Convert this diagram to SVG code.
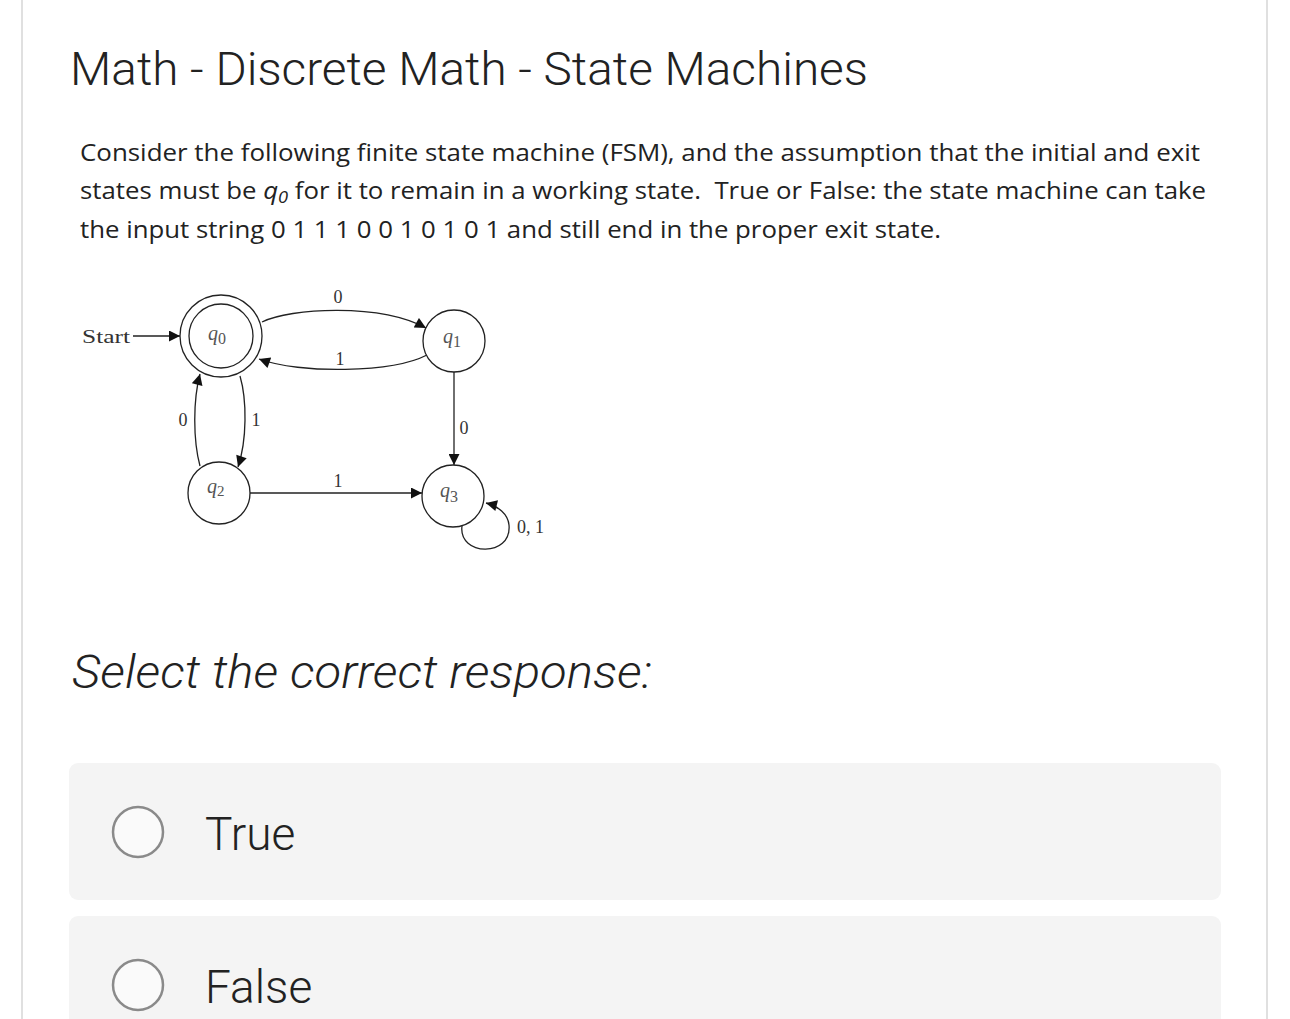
<svg xmlns="http://www.w3.org/2000/svg" width="1290" height="1019" viewBox="0 0 1290 1019">
<style>
.title{font-family:Roboto,"Liberation Sans",sans-serif;font-weight:300;font-size:46px;fill:#222}
.para{font-family:"Open Sans","Noto Sans","Liberation Sans",sans-serif;font-size:24px;fill:#222}
.sel{font-family:Roboto,"Liberation Sans",sans-serif;font-weight:300;font-style:italic;font-size:46px;fill:#222}
.opt{font-family:Roboto,"Liberation Sans",sans-serif;font-weight:300;font-size:46px;fill:#222}
.box{fill:#f4f4f4}
.radio{fill:#fafafa;stroke:#8a8a8a;stroke-width:2.5}
.st{fill:#fff;stroke:#222;stroke-width:1.3}
.edge{fill:none;stroke:#222;stroke-width:1.3}
.lbl{font-family:"Liberation Serif","DejaVu Serif",serif;font-size:18px;fill:#333}
.ql{font-family:"Liberation Serif","DejaVu Serif",serif;font-style:italic;font-size:20px;fill:#555}
</style>
<defs>
<marker id="ah" viewBox="0 0 10 10" refX="10" refY="5" markerWidth="13" markerHeight="11" markerUnits="userSpaceOnUse" orient="auto">
<path d="M0,0 L10,5 L0,10 z" fill="#111"/>
</marker>
</defs>
<rect x="0" y="0" width="1290" height="1019" fill="#fff"/>
<rect x="21" y="0" width="2" height="1019" fill="#e0e0e0"/>
<rect x="1266" y="0" width="2" height="1019" fill="#e0e0e0"/>
<text class="title" x="70" y="85" textLength="798" lengthAdjust="spacingAndGlyphs">Math - Discrete Math - State Machines</text>
<text class="para" x="80" y="161" textLength="1120" lengthAdjust="spacingAndGlyphs">Consider the following finite state machine (FSM), and the assumption that the initial and exit</text>
<text class="para" x="80" y="199" textLength="1126" lengthAdjust="spacingAndGlyphs">states must be <tspan font-style="italic">q<tspan font-size="17" dy="4">0</tspan></tspan><tspan dy="-4"> for it to remain in a working state.&#160; True or False: the state machine can take</tspan></text>
<text class="para" x="80" y="238" textLength="861" lengthAdjust="spacingAndGlyphs">the input string 0 1 1 1 0 0 1 0 1 0 1 and still end in the proper exit state.</text>

<g id="connectors">
<line class="edge" x1="133" y1="336" x2="180" y2="336" marker-end="url(#ah)"/>
<path class="edge" d="M262 322 C290 308, 380 303, 426 328" marker-end="url(#ah)"/>
<path class="edge" d="M427 355 C392 373, 300 374, 259 359" marker-end="url(#ah)"/>
<path class="edge" d="M200 466 C193 440, 193 400, 200 374" marker-end="url(#ah)"/>
<path class="edge" d="M240 376 C247 400, 247 440, 238 467" marker-end="url(#ah)"/>
<line class="edge" x1="454" y1="372" x2="454" y2="465" marker-end="url(#ah)"/>
<line class="edge" x1="250" y1="493" x2="422" y2="493" marker-end="url(#ah)"/>
<path class="edge" d="M462 526 C458 556, 512 558, 509 525 C508 514, 498 506, 486 503" marker-end="url(#ah)"/>
<text class="lbl" x="82" y="343" font-size="19" textLength="48" lengthAdjust="spacingAndGlyphs" fill="#444">Start</text>
<text class="lbl" x="338" y="303" text-anchor="middle">0</text>
<text class="lbl" x="340" y="365" text-anchor="middle">1</text>
<text class="lbl" x="183" y="426" text-anchor="middle">0</text>
<text class="lbl" x="256" y="426" text-anchor="middle">1</text>
<text class="lbl" x="464" y="434" text-anchor="middle">0</text>
<text class="lbl" x="338" y="487" text-anchor="middle">1</text>
<text class="lbl" x="517" y="533">0, 1</text>
</g>

<g id="q0">
<circle class="st" cx="221" cy="336" r="41"/>
<circle class="st" cx="221" cy="336" r="32"/>
<text class="ql" x="208" y="340">q<tspan font-size="16" font-style="normal" dy="4">0</tspan></text>
</g>
<g id="q1">
<circle class="st" cx="454" cy="341" r="31"/>
<text class="ql" x="443" y="343">q<tspan font-size="16" font-style="normal" dy="4">1</tspan></text>
</g>
<g id="q2">
<circle class="st" cx="219" cy="493" r="31"/>
<text class="ql" x="207" y="493">q<tspan font-size="15" font-style="normal" dy="3">2</tspan></text>
</g>
<g id="q3">
<circle class="st" cx="453" cy="496" r="31"/>
<text class="ql" x="440" y="497">q<tspan font-size="16" font-style="normal" dy="5">3</tspan></text>
</g>

<text class="sel" x="72" y="688" textLength="580" lengthAdjust="spacingAndGlyphs">Select the correct response:</text>

<g id="optTrue">
<rect class="box" x="69" y="763" width="1152" height="137" rx="9"/>
<circle class="radio" cx="138" cy="832" r="25"/>
<text class="opt" x="205" y="850">True</text>
</g>
<g id="optFalse">
<rect class="box" x="69" y="916" width="1152" height="137" rx="9"/>
<circle class="radio" cx="138" cy="985" r="25"/>
<text class="opt" x="205" y="1003">False</text>
</g>
</svg>
